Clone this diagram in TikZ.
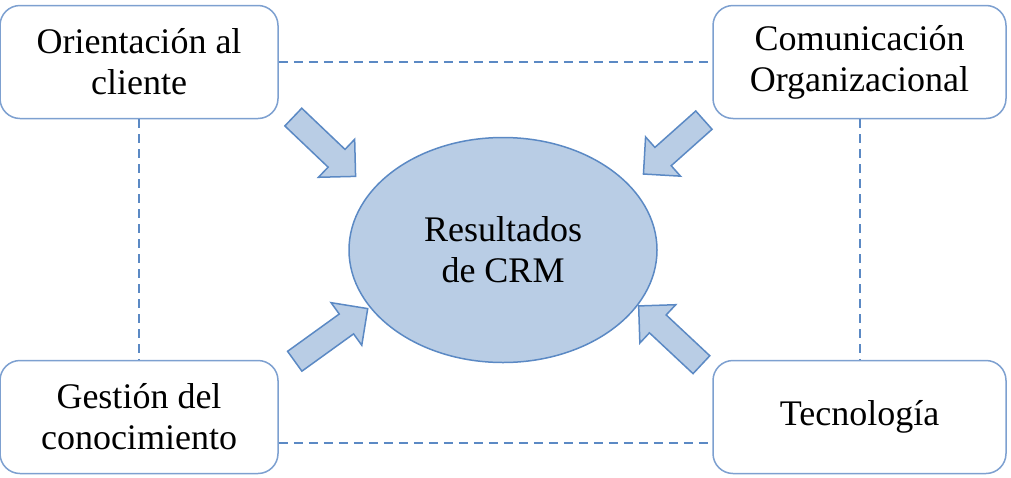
\documentclass[tikz,border=0pt]{standalone}
\usepackage{fontspec}
\setmainfont{Liberation Serif}
\usepackage{xcolor}
\usetikzlibrary{shapes.geometric, shapes.arrows, positioning}

\definecolor{edgeblue}{RGB}{91,137,196}
\definecolor{boxblue}{RGB}{125,160,208}
\definecolor{fillblue}{RGB}{185,205,229}

\begin{document}
\begin{tikzpicture}[x=0.5pt, y=-0.5pt, every node/.style={font=\fontsize{18}{20.5}\selectfont}, align=center]
      % Styles
      \tikzset{
        factor/.style={rectangle, draw=boxblue, line width=0.75pt, rounded corners=10pt, fill=white, minimum width=139pt, minimum height=56.5pt, text centered},
        result/.style={ellipse, draw=edgeblue, line width=0.75pt, fill=fillblue, minimum width=154pt, minimum height=112.5pt},
        push/.style={single arrow, draw=edgeblue, line width=0.75pt, fill=fillblue, inner xsep=0pt, inner ysep=5.75pt, minimum width=25.5pt, single arrow head extend=7pt, single arrow tip angle=90},
        link/.style={draw=edgeblue, line width=1pt, dash pattern=on 4.5pt off 3pt}
      }

      \useasboundingbox (0,0) rectangle (1011,477);

      % Nodes
      \node (crm) [result] at (503,250) {Resultados\\de CRM};
      \node (client) [factor] at (139,62) {Orientación al\\cliente};
      \node (comm) [factor, minimum width=146.5pt] at (859.5,62) {Comunicación\\Organizacional};
      \node (know) [factor] at (139,417) {Gestión del\\conocimiento};
      \node (tech) [factor, minimum width=146.5pt] at (859.5,417) {Tecnología};

      % Block arrows
      \node (pushA) [push, minimum height=43pt, rotate=-43.6] at (320,142.5) {};
      \node (pushB) [push, minimum height=40.5pt, rotate=221.7] at (678.25,143) {};
      \node (pushC) [push, minimum height=45pt, rotate=35.8] at (326.25,338.5) {};
      \node (pushD) [push, minimum height=43pt, rotate=136.9] at (674.5,339.5) {};

      % Dashed links
      \draw [link] (client.east) -- (comm.west);
      \draw [link] (client.south) -- (know.north);
      \draw [link] (comm.south) -- (tech.north);
      \draw [link] ([yshift=-13pt]know.east) -- ([yshift=-13pt]tech.west);
    \end{tikzpicture}
\end{document}
